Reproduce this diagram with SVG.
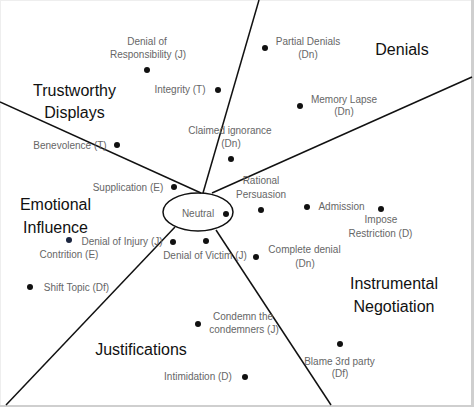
<svg xmlns="http://www.w3.org/2000/svg" width="474" height="407" viewBox="0 0 474 407">
<style>
.s{font-family:"Liberation Sans",Arial,sans-serif;font-size:10px;fill:#666;text-anchor:middle}
.c{font-family:"Liberation Sans",Arial,sans-serif;font-size:16px;fill:#111;text-anchor:middle}
.d{fill:#111}
.l{stroke:#111;stroke-width:1.5;fill:none}
</style>
<rect x="0" y="0" width="474" height="407" fill="#fff"/>
<rect x="471" y="0" width="3" height="407" fill="#cfcfcf"/>
<rect x="0" y="405" width="474" height="2" fill="#cfcfcf"/>
<rect x="0" y="0" width="471" height="1" fill="#eeeeee"/>
<rect x="0" y="0" width="1" height="405" fill="#eeeeee"/>
<g id="connectors">
<line class="l" x1="0" y1="102" x2="201" y2="193"/>
<line class="l" x1="259" y1="0" x2="203" y2="193"/>
<line class="l" x1="212" y1="193" x2="472" y2="77"/>
<line class="l" x1="175" y1="227" x2="6" y2="405"/>
<line class="l" x1="216" y1="230" x2="331" y2="405"/>
</g>
<g id="neutral">
<ellipse class="l" cx="198" cy="212" rx="35" ry="19"/>
<text class="s" x="198" y="217">Neutral</text>
<circle class="d" cx="226" cy="214" r="3"/>
</g>
<g id="cat-trustworthy"><text class="c" x="74.5" y="96">Trustworthy</text><text class="c" x="74.5" y="118">Displays</text></g>
<g id="cat-denials"><text class="c" x="402" y="55">Denials</text></g>
<g id="cat-emotional"><text class="c" x="55.5" y="210">Emotional</text><text class="c" x="55.5" y="233">Influence</text></g>
<g id="cat-instrumental"><text class="c" x="394" y="289">Instrumental</text><text class="c" x="394" y="312">Negotiation</text></g>
<g id="cat-justifications"><text class="c" x="141" y="355">Justifications</text></g>
<g id="denial-responsibility"><text class="s" x="147" y="45">Denial of</text><text class="s" x="148" y="58">Responsibility (J)</text><circle class="d" cx="147" cy="70" r="3"/></g>
<g id="integrity"><text class="s" x="180" y="93">Integrity (T)</text><circle class="d" cx="218" cy="90" r="3"/></g>
<g id="benevolence"><text class="s" x="70" y="149">Benevolence (T)</text><circle class="d" cx="117" cy="145" r="3"/></g>
<g id="supplication"><text class="s" x="128" y="191">Supplication (E)</text><circle class="d" cx="174" cy="187" r="3"/></g>
<g id="claimed-ignorance"><text class="s" x="230" y="134">Claimed ignorance</text><text class="s" x="231" y="147">(Dn)</text><circle class="d" cx="231" cy="159" r="3"/></g>
<g id="partial-denials"><circle class="d" cx="265" cy="48" r="3"/><text class="s" x="308" y="45">Partial Denials</text><text class="s" x="308" y="58">(Dn)</text></g>
<g id="memory-lapse"><circle class="d" cx="300" cy="106" r="3"/><text class="s" x="344" y="103">Memory Lapse</text><text class="s" x="344" y="115">(Dn)</text></g>
<g id="rational-persuasion"><text class="s" x="261" y="184">Rational</text><text class="s" x="261" y="198">Persuasion</text><circle class="d" cx="261" cy="210" r="3"/></g>
<g id="admission"><circle class="d" cx="307" cy="207" r="3"/><text class="s" x="341.5" y="210">Admission</text></g>
<g id="impose-restriction"><circle class="d" cx="381" cy="209" r="3"/><text class="s" x="381" y="223">Impose</text><text class="s" x="380.5" y="237">Restriction (D)</text></g>
<g id="complete-denial"><circle class="d" cx="256" cy="257" r="3"/><text class="s" x="304.5" y="253">Complete denial</text><text class="s" x="305" y="267">(Dn)</text></g>
<g id="denial-injury"><text class="s" x="122" y="245">Denial of Injury (J)</text><circle class="d" cx="173" cy="242" r="3"/></g>
<g id="denial-victim"><circle class="d" cx="206" cy="241" r="3"/><text class="s" x="205" y="259">Denial of Victim (J)</text></g>
<g id="contrition"><circle cx="69" cy="240" r="3" fill="#1c2640"/><text class="s" x="69" y="258">Contrition (E)</text></g>
<g id="shift-topic"><circle class="d" cx="30" cy="287" r="3"/><text class="s" x="76.5" y="291">Shift Topic (Df)</text></g>
<g id="condemn"><circle class="d" cx="198" cy="324" r="3"/><text class="s" x="243" y="320">Condemn the</text><text class="s" x="244" y="333">condemners (J)</text></g>
<g id="intimidation"><text class="s" x="198" y="380">Intimidation (D)</text><circle class="d" cx="245" cy="377" r="3"/></g>
<g id="blame"><circle class="d" cx="340" cy="344" r="3"/><text class="s" x="339.5" y="365">Blame 3rd party</text><text class="s" x="340" y="377">(Df)</text></g>
</svg>
